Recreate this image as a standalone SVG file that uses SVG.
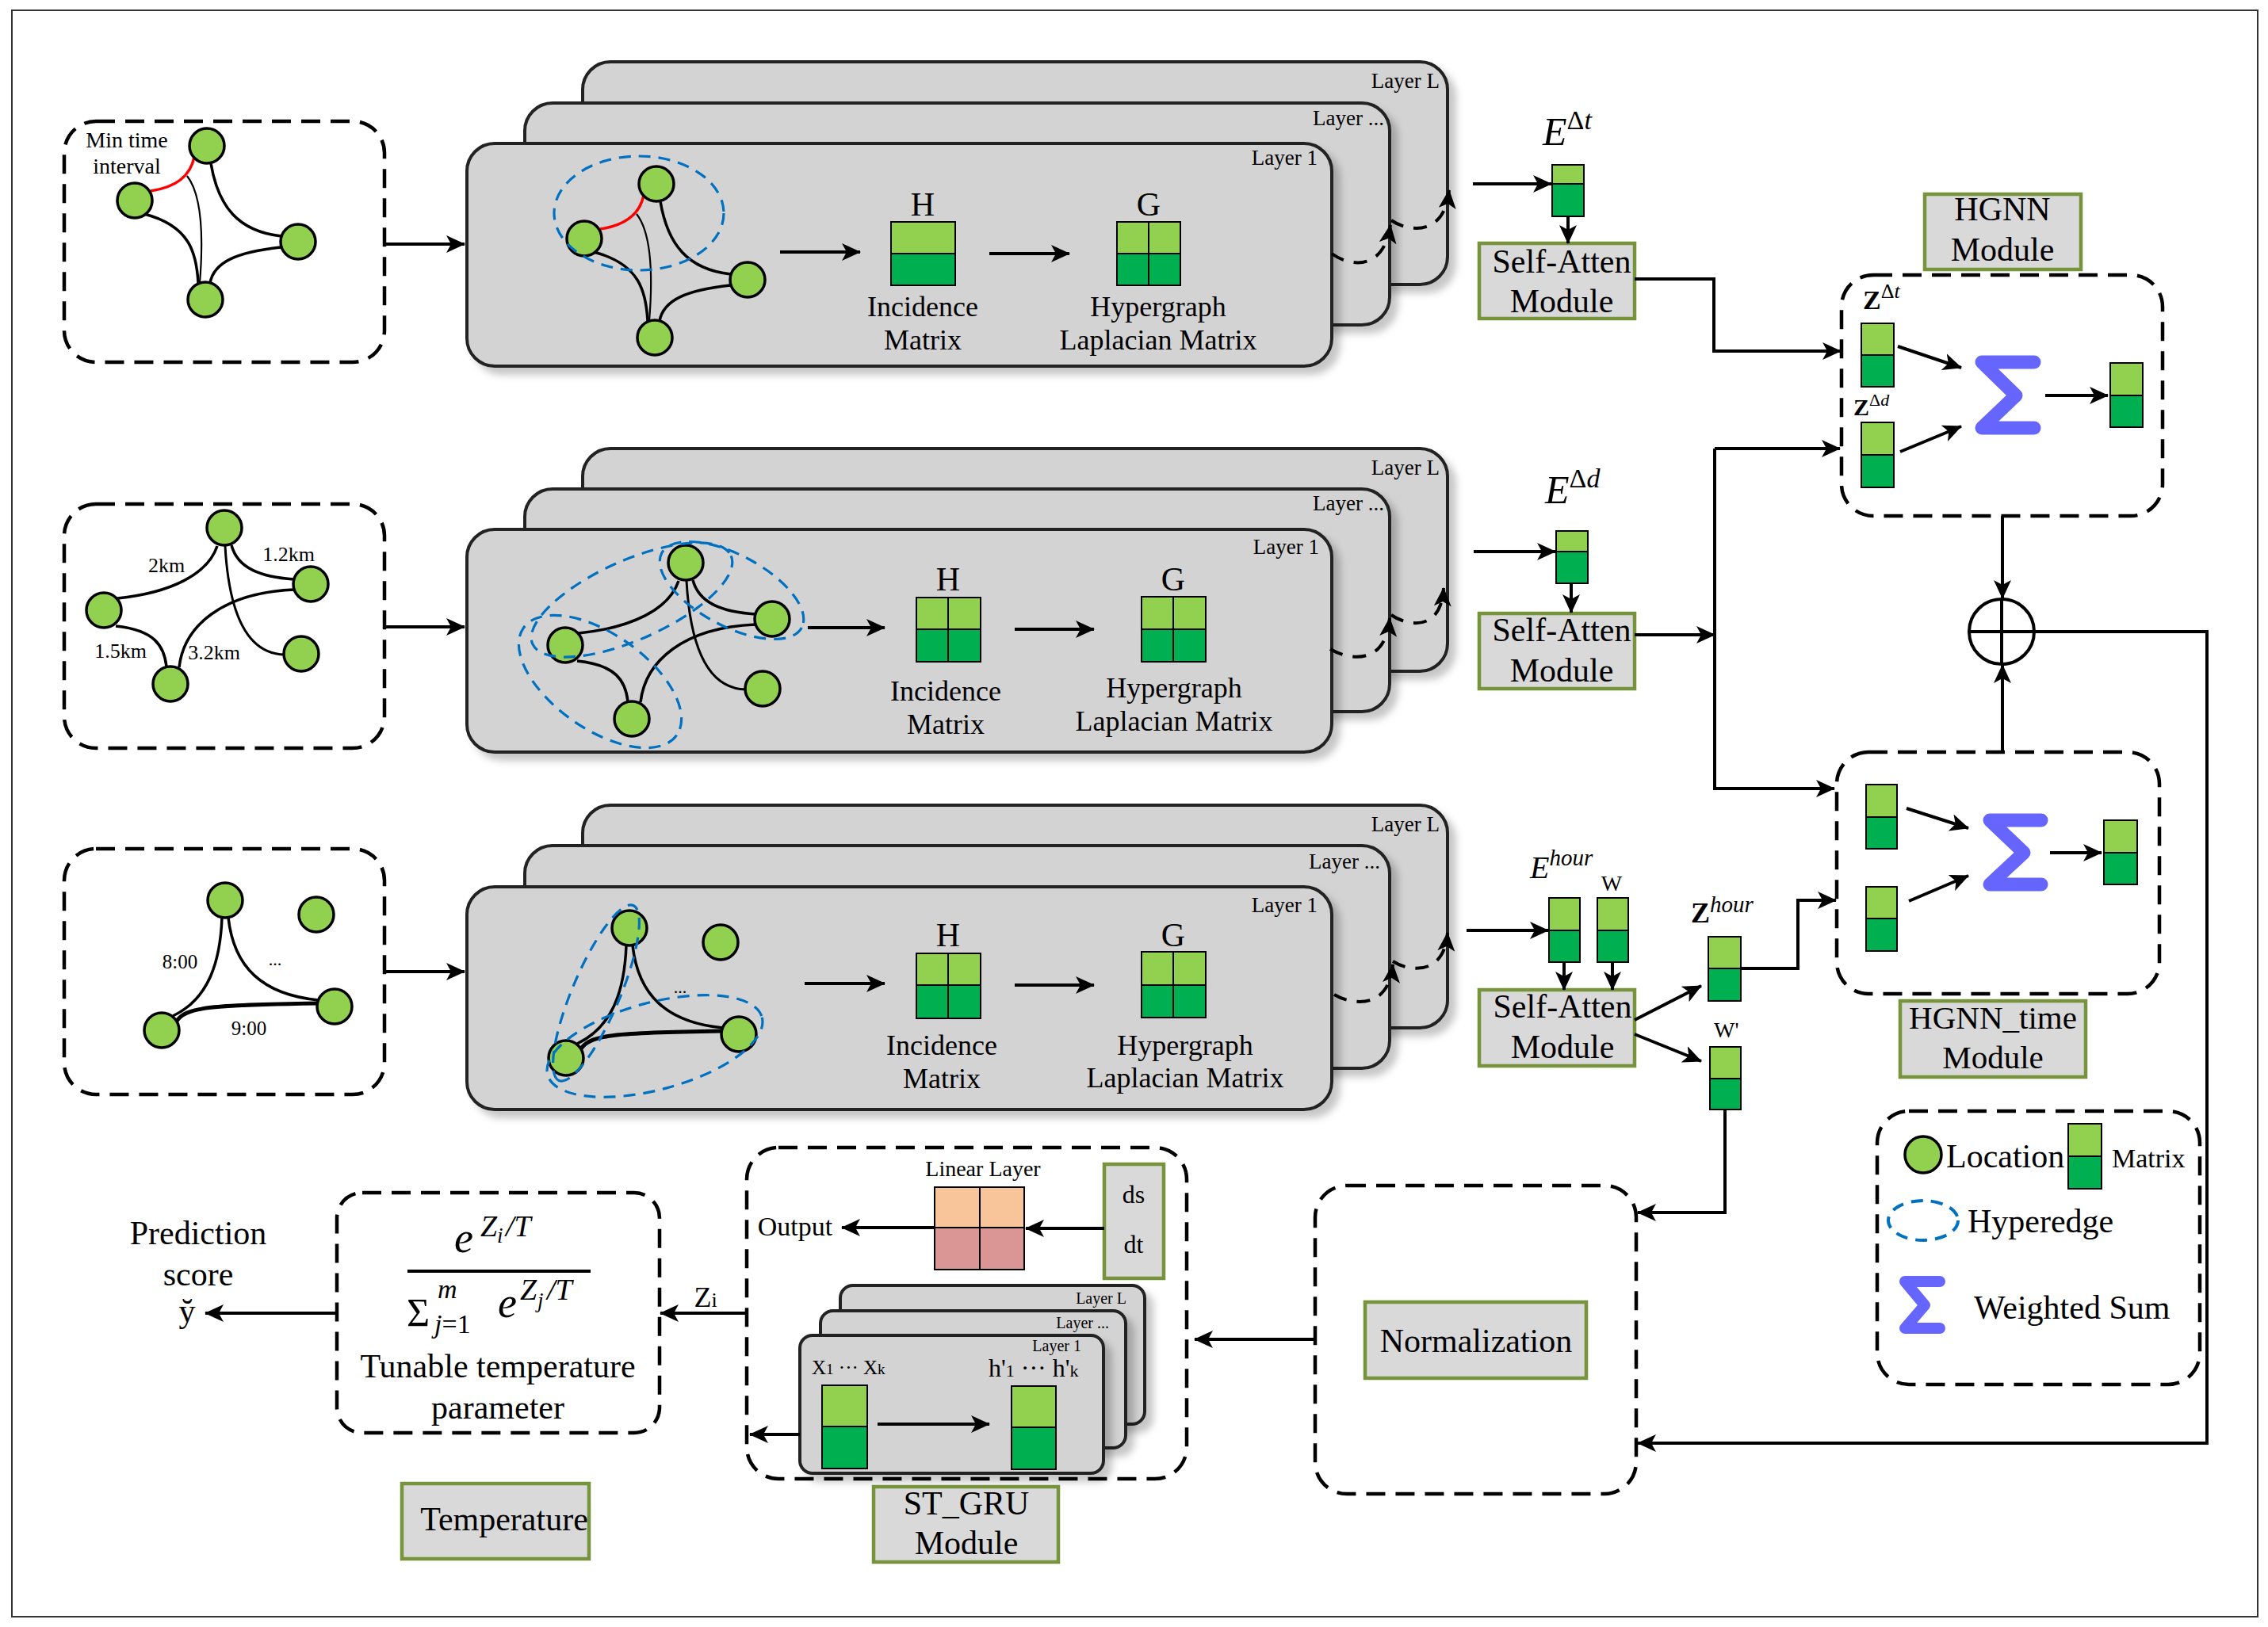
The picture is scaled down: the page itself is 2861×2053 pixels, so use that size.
<svg xmlns="http://www.w3.org/2000/svg" width="2861" height="2053" viewBox="0 0 2861 2053">
<defs>
<style>
.t{font-family:"Liberation Serif","Times New Roman",serif;fill:#000}
.card{fill:#d3d3d3;stroke:#222;stroke-width:4;filter:url(#sh)}
.dbox{fill:none;stroke:#000;stroke-width:4.5;stroke-dasharray:24 13}
.node{fill:#92d050;stroke:#000;stroke-width:3.5}
.edge{fill:none;stroke:#000;stroke-width:3.5}
.thin{fill:none;stroke:#000;stroke-width:2.2}
.red{fill:none;stroke:#ff0000;stroke-width:3.5}
.hy{fill:none;stroke:#0070c0;stroke-width:3.2;stroke-dasharray:15 10}
.lbox{fill:#d9d9d9;stroke:#77933c;stroke-width:4.5}
.ml{fill:#92d050;stroke:#000;stroke-width:2}
.md{fill:#00b050;stroke:#000;stroke-width:2}
.con{fill:none;stroke:#000;stroke-width:4;marker-end:url(#ah)}
.dcon{fill:none;stroke:#000;stroke-width:4;stroke-dasharray:17 13;marker-end:url(#ah)}
.sig{fill:none;stroke:#6666ff;stroke-width:17;stroke-linecap:round;stroke-linejoin:round}
</style>
<filter id="sh" x="-5%" y="-5%" width="115%" height="120%">
<feDropShadow dx="9" dy="9" stdDeviation="5" flood-color="#000" flood-opacity="0.22"/>
</filter>
<marker id="ah" viewBox="0 0 24 22" markerWidth="24" markerHeight="22" refX="23" refY="11" orient="auto" markerUnits="userSpaceOnUse">
<path d="M0,0 L24,11 L0,22 L6,11 z" fill="#000"/>
</marker>
<g id="g1">
<path class="red" d="M190,241 Q238,234 245,198"/>
<path class="thin" d="M236,222 C258,250 255,320 252,357"/>
<path class="edge" d="M266,206 C275,260 300,292 355,298"/>
<path class="edge" d="M182,270 C240,285 248,320 250,357"/>
<path class="edge" d="M354,312 C300,318 270,330 265,357"/>
<circle class="node" cx="261" cy="184" r="22"/>
<circle class="node" cx="170" cy="253" r="22"/>
<circle class="node" cx="376" cy="305" r="22"/>
<circle class="node" cx="259" cy="378" r="22"/>
</g>
<g id="g2">
<path class="edge" d="M148,755 C215,748 262,725 274,689"/>
<path class="edge" d="M292,688 C300,718 330,728 371,731"/>
<path class="thin" d="M284,689 C288,760 305,825 359,826" style="stroke-width:3"/>
<path class="edge" d="M146,790 C195,795 207,815 210,841"/>
<path class="edge" d="M226,842 C232,790 280,748 371,744"/>
<circle class="node" cx="283" cy="666" r="22"/>
<circle class="node" cx="131" cy="770" r="22"/>
<circle class="node" cx="392" cy="737" r="22"/>
<circle class="node" cx="215" cy="863" r="22"/>
<circle class="node" cx="380" cy="825" r="22"/>
</g>
<g id="g3">
<path class="edge" d="M280,1158 C278,1210 265,1260 218,1282"/>
<path class="edge" d="M288,1158 C295,1220 330,1255 402,1262"/>
<path class="edge" d="M222,1290 C232,1270 270,1268 400,1266" style="stroke-width:5"/>
<circle class="node" cx="284" cy="1136" r="22"/>
<circle class="node" cx="399" cy="1154" r="22"/>
<circle class="node" cx="204" cy="1300" r="22"/>
<circle class="node" cx="422" cy="1270" r="22"/>
</g>
</defs>

<rect x="15" y="13" width="2833" height="2027" fill="#fff" stroke="#333" stroke-width="2"/>

<!-- Row 1 -->
<g id="input1">
<rect class="dbox" x="81" y="153" width="404" height="304" rx="40"/>
<use href="#g1"/>
<text class="t" x="160" y="186" font-size="28" text-anchor="middle">Min time</text>
<text class="t" x="160" y="219" font-size="28" text-anchor="middle">interval</text>
</g>
<g id="stack1">
<rect class="card" x="735" y="78" width="1091" height="281" rx="35"/>
<text class="t" x="1816" y="111" font-size="27" text-anchor="end">Layer L</text>
<rect class="card" x="662" y="130" width="1091" height="280" rx="35"/>
<text class="t" x="1746" y="158" font-size="27" text-anchor="end">Layer ...</text>
<rect class="card" x="589" y="181" width="1091" height="281" rx="35"/>
<text class="t" x="1662" y="208" font-size="27" text-anchor="end">Layer 1</text>
<use href="#g1" transform="translate(567,48)"/>
<ellipse class="hy" cx="806" cy="269" rx="107" ry="72"/>
<text class="t" x="1164" y="272" font-size="42" text-anchor="middle">H</text>
<rect class="ml" x="1124" y="280" width="81" height="40"/>
<rect class="md" x="1124" y="320" width="81" height="40"/>
<text class="t" x="1164" y="399" font-size="36" text-anchor="middle">Incidence</text>
<text class="t" x="1164" y="441" font-size="36" text-anchor="middle">Matrix</text>
<text class="t" x="1449" y="272" font-size="42" text-anchor="middle">G</text>
<rect class="ml" x="1409" y="280" width="40" height="40"/><rect class="ml" x="1449" y="280" width="40" height="40"/>
<rect class="md" x="1409" y="320" width="40" height="40"/><rect class="md" x="1449" y="320" width="40" height="40"/>
<text class="t" x="1461" y="399" font-size="36" text-anchor="middle">Hypergraph</text>
<text class="t" x="1461" y="441" font-size="36" text-anchor="middle">Laplacian Matrix</text>
</g>

<!-- Row 2 -->
<g id="input2">
<rect class="dbox" x="81" y="636" width="404" height="308" rx="40"/>
<use href="#g2"/>
<text class="t" x="210" y="722" font-size="26" text-anchor="middle">2km</text>
<text class="t" x="364" y="708" font-size="26" text-anchor="middle">1.2km</text>
<text class="t" x="152" y="830" font-size="26" text-anchor="middle">1.5km</text>
<text class="t" x="270" y="832" font-size="26" text-anchor="middle">3.2km</text>
</g>
<g id="stack2">
<rect class="card" x="735" y="566" width="1091" height="281" rx="35"/>
<text class="t" x="1816" y="599" font-size="27" text-anchor="end">Layer L</text>
<rect class="card" x="662" y="617" width="1091" height="281" rx="35"/>
<text class="t" x="1746" y="644" font-size="27" text-anchor="end">Layer ...</text>
<rect class="card" x="589" y="668" width="1091" height="281" rx="35"/>
<text class="t" x="1664" y="699" font-size="27" text-anchor="end">Layer 1</text>
<use href="#g2" transform="translate(582,44)"/>
<ellipse class="hy" cx="923" cy="745" rx="100" ry="45" transform="rotate(28 923 745)"/>
<ellipse class="hy" cx="797" cy="757" rx="137" ry="50" transform="rotate(-24 797 757)"/>
<ellipse class="hy" cx="757" cy="860" rx="118" ry="60" transform="rotate(35 757 860)"/>
<text class="t" x="1196" y="745" font-size="42" text-anchor="middle">H</text>
<rect class="ml" x="1156" y="754" width="40" height="40"/><rect class="ml" x="1196" y="754" width="41" height="40"/>
<rect class="md" x="1156" y="794" width="40" height="41"/><rect class="md" x="1196" y="794" width="41" height="41"/>
<text class="t" x="1193" y="884" font-size="36" text-anchor="middle">Incidence</text>
<text class="t" x="1193" y="926" font-size="36" text-anchor="middle">Matrix</text>
<text class="t" x="1480" y="745" font-size="42" text-anchor="middle">G</text>
<rect class="ml" x="1440" y="753" width="40" height="41"/><rect class="ml" x="1480" y="753" width="41" height="41"/>
<rect class="md" x="1440" y="794" width="40" height="41"/><rect class="md" x="1480" y="794" width="41" height="41"/>
<text class="t" x="1481" y="880" font-size="36" text-anchor="middle">Hypergraph</text>
<text class="t" x="1481" y="922" font-size="36" text-anchor="middle">Laplacian Matrix</text>
</g>

<!-- Row 3 -->
<g id="input3">
<rect class="dbox" x="81" y="1071" width="404" height="310" rx="40"/>
<use href="#g3"/>
<text class="t" x="227" y="1222" font-size="25" text-anchor="middle">8:00</text>
<text class="t" x="347" y="1218" font-size="22" text-anchor="middle">...</text>
<text class="t" x="314" y="1306" font-size="25" text-anchor="middle">9:00</text>
</g>
<g id="stack3">
<rect class="card" x="735" y="1016" width="1091" height="281" rx="35"/>
<text class="t" x="1816" y="1049" font-size="27" text-anchor="end">Layer L</text>
<rect class="card" x="662" y="1067" width="1091" height="281" rx="35"/>
<text class="t" x="1741" y="1096" font-size="27" text-anchor="end">Layer ...</text>
<rect class="card" x="589" y="1119" width="1091" height="281" rx="35"/>
<text class="t" x="1662" y="1151" font-size="27" text-anchor="end">Layer 1</text>
<use href="#g3" transform="translate(510,35)"/>
<text class="t" x="858" y="1253" font-size="22" text-anchor="middle">...</text>
<ellipse class="hy" cx="752" cy="1253" rx="120" ry="30" transform="rotate(113 752 1253)"/>
<ellipse class="hy" cx="826" cy="1320" rx="140" ry="55" transform="rotate(-15 826 1320)"/>
<text class="t" x="1196" y="1194" font-size="42" text-anchor="middle">H</text>
<rect class="ml" x="1156" y="1203" width="40" height="40"/><rect class="ml" x="1196" y="1203" width="41" height="40"/>
<rect class="md" x="1156" y="1243" width="40" height="42"/><rect class="md" x="1196" y="1243" width="41" height="42"/>
<text class="t" x="1188" y="1331" font-size="36" text-anchor="middle">Incidence</text>
<text class="t" x="1188" y="1373" font-size="36" text-anchor="middle">Matrix</text>
<text class="t" x="1480" y="1194" font-size="42" text-anchor="middle">G</text>
<rect class="ml" x="1440" y="1201" width="40" height="42"/><rect class="ml" x="1480" y="1201" width="41" height="42"/>
<rect class="md" x="1440" y="1243" width="40" height="41"/><rect class="md" x="1480" y="1243" width="41" height="41"/>
<text class="t" x="1495" y="1331" font-size="36" text-anchor="middle">Hypergraph</text>
<text class="t" x="1495" y="1372" font-size="36" text-anchor="middle">Laplacian Matrix</text>
</g>

<!-- Embeddings and self attention -->
<g id="e_dt">
<text class="t" x="1946" y="183" font-size="50" font-style="italic">E<tspan font-size="34" dy="-20" font-style="normal">Δ</tspan><tspan font-size="34" font-style="italic">t</tspan></text>
<rect class="ml" x="1958" y="208" width="40" height="24"/><rect class="md" x="1958" y="232" width="40" height="41"/>
</g>
<g id="sa1">
<rect class="lbox" x="1866" y="307" width="196" height="95"/>
<text class="t" x="1970" y="344" font-size="42" text-anchor="middle">Self-Atten</text>
<text class="t" x="1970" y="394" font-size="42" text-anchor="middle">Module</text>
</g>
<g id="e_dd">
<text class="t" x="1949" y="635" font-size="50" font-style="italic">E<tspan font-size="34" dy="-20" font-style="normal">Δ</tspan><tspan font-size="34" font-style="italic">d</tspan></text>
<rect class="ml" x="1963" y="670" width="40" height="26"/><rect class="md" x="1963" y="696" width="40" height="40"/>
</g>
<g id="sa2">
<rect class="lbox" x="1866" y="774" width="196" height="95"/>
<text class="t" x="1970" y="809" font-size="42" text-anchor="middle">Self-Atten</text>
<text class="t" x="1970" y="860" font-size="42" text-anchor="middle">Module</text>
</g>
<g id="e_hour">
<text class="t" x="1930" y="1108" font-size="40" font-style="italic">E<tspan font-size="29" dy="-16">hour</tspan></text>
<text class="t" x="2033" y="1124" font-size="28" text-anchor="middle">W</text>
<rect class="ml" x="1954" y="1133" width="39" height="41"/><rect class="md" x="1954" y="1174" width="39" height="40"/>
<rect class="ml" x="2015" y="1133" width="39" height="41"/><rect class="md" x="2015" y="1174" width="39" height="40"/>
</g>
<g id="sa3">
<rect class="lbox" x="1866" y="1249" width="196" height="96"/>
<text class="t" x="1971" y="1284" font-size="42" text-anchor="middle">Self-Atten</text>
<text class="t" x="1971" y="1335" font-size="42" text-anchor="middle">Module</text>
</g>
<g id="z_hour">
<text class="t" x="2133" y="1164" font-size="36" font-weight="bold">Z<tspan font-weight="normal" font-style="italic" font-size="29" dy="-13">hour</tspan></text>
<rect class="ml" x="2155" y="1182" width="41" height="40"/><rect class="md" x="2155" y="1222" width="41" height="41"/>
</g>
<g id="w_prime">
<text class="t" x="2162" y="1309" font-size="28">W'</text>
<rect class="ml" x="2157" y="1321" width="39" height="40"/><rect class="md" x="2157" y="1361" width="39" height="39"/>
</g>

<!-- HGNN module -->
<g id="hgnn">
<rect class="lbox" x="2428" y="245" width="197" height="95"/>
<text class="t" x="2526" y="278" font-size="42" text-anchor="middle">HGNN</text>
<text class="t" x="2526" y="329" font-size="42" text-anchor="middle">Module</text>
<rect class="dbox" x="2323" y="347" width="405" height="304" rx="40"/>
<text class="t" x="2350" y="390" font-size="34" font-weight="bold">Z<tspan font-weight="normal" font-size="26" dy="-14">Δ</tspan><tspan font-weight="normal" font-style="italic" font-size="26">t</tspan></text>
<rect class="ml" x="2348" y="408" width="41" height="40"/><rect class="md" x="2348" y="448" width="41" height="40"/>
<text class="t" x="2338" y="524" font-size="30" font-weight="bold">Z<tspan font-weight="normal" font-size="22" dy="-12">Δ</tspan><tspan font-weight="normal" font-style="italic" font-size="22">d</tspan></text>
<rect class="ml" x="2348" y="533" width="41" height="41"/><rect class="md" x="2348" y="574" width="41" height="41"/>
<polyline class="sig" points="2566,457 2500,457 2543,499 2500,540 2566,540"/>
<rect class="ml" x="2662" y="458" width="41" height="41"/><rect class="md" x="2662" y="499" width="41" height="40"/>
</g>
<g id="oplus">
<circle cx="2525" cy="797" r="41" fill="#fff" stroke="#000" stroke-width="4"/>
<line x1="2484" y1="797" x2="2566" y2="797" stroke="#000" stroke-width="4"/>
<line x1="2525" y1="756" x2="2525" y2="838" stroke="#000" stroke-width="4"/>
</g>
<g id="hgnn_time">
<rect class="dbox" x="2317" y="949" width="407" height="305" rx="40"/>
<rect class="ml" x="2354" y="990" width="39" height="41"/><rect class="md" x="2354" y="1031" width="39" height="40"/>
<rect class="ml" x="2354" y="1119" width="39" height="40"/><rect class="md" x="2354" y="1159" width="39" height="41"/>
<polyline class="sig" points="2575,1035 2510,1035 2553,1076 2510,1116 2575,1116"/>
<rect class="ml" x="2654" y="1035" width="42" height="41"/><rect class="md" x="2654" y="1076" width="42" height="40"/>
<rect class="lbox" x="2397" y="1263" width="234" height="96"/>
<text class="t" x="2514" y="1298" font-size="41" text-anchor="middle">HGNN_time</text>
<text class="t" x="2514" y="1348" font-size="41" text-anchor="middle">Module</text>
</g>

<!-- Legend -->
<g id="legend">
<rect class="dbox" x="2368" y="1402" width="407" height="345" rx="40"/>
<circle class="node" cx="2426" cy="1457" r="23"/>
<text class="t" x="2455" y="1473" font-size="42">Location</text>
<rect class="ml" x="2609" y="1418" width="42" height="41"/><rect class="md" x="2609" y="1459" width="42" height="41"/>
<text class="t" x="2664" y="1473" font-size="34">Matrix</text>
<ellipse class="hy" cx="2426" cy="1540" rx="44" ry="25" style="stroke-width:4"/>
<text class="t" x="2482" y="1555" font-size="42">Hyperedge</text>
<polyline class="sig" points="2447,1617 2403,1617 2428,1647 2403,1676 2447,1676" style="stroke-width:14"/>
<text class="t" x="2490" y="1664" font-size="42">Weighted Sum</text>
</g>

<!-- Normalization -->
<g id="normalization">
<rect class="dbox" x="1659" y="1496" width="405" height="389" rx="40"/>
<rect class="lbox" x="1722" y="1643" width="279" height="96"/>
<text class="t" x="1862" y="1706" font-size="42" text-anchor="middle">Normalization</text>
</g>

<!-- ST_GRU -->
<g id="st_gru">
<rect class="dbox" x="942" y="1448" width="555" height="418" rx="40"/>
<text class="t" x="1240" y="1484" font-size="28" text-anchor="middle">Linear Layer</text>
<rect x="1179" y="1498" width="57" height="51" fill="#f8c59b" stroke="#000" stroke-width="2"/>
<rect x="1236" y="1498" width="56" height="51" fill="#f8c59b" stroke="#000" stroke-width="2"/>
<rect x="1179" y="1549" width="57" height="53" fill="#d99694" stroke="#000" stroke-width="2"/>
<rect x="1236" y="1549" width="56" height="53" fill="#d99694" stroke="#000" stroke-width="2"/>
<text class="t" x="1003" y="1559" font-size="34" text-anchor="middle">Output</text>
<rect class="lbox" x="1393" y="1469" width="75" height="144"/>
<text class="t" x="1430" y="1518" font-size="32" text-anchor="middle">ds</text>
<text class="t" x="1430" y="1581" font-size="32" text-anchor="middle">dt</text>
<rect class="card" x="1060" y="1622" width="384" height="175" rx="16"/>
<text class="t" x="1421" y="1645" font-size="20" text-anchor="end">Layer L</text>
<rect class="card" x="1035" y="1654" width="385" height="173" rx="16"/>
<text class="t" x="1399" y="1676" font-size="20" text-anchor="end">Layer ...</text>
<rect class="card" x="1009" y="1685" width="383" height="174" rx="16"/>
<text class="t" x="1364" y="1705" font-size="20" text-anchor="end">Layer 1</text>
<text class="t" x="1024" y="1734" font-size="25">X<tspan font-size="19">1</tspan> ··· X<tspan font-size="19">k</tspan></text>
<text class="t" x="1247" y="1737" font-size="32">h'<tspan font-size="22">1</tspan> ··· h'<tspan font-size="22">k</tspan></text>
<rect class="ml" x="1037" y="1748" width="57" height="52"/><rect class="md" x="1037" y="1800" width="57" height="53"/>
<rect class="ml" x="1276" y="1749" width="56" height="52"/><rect class="md" x="1276" y="1801" width="56" height="53"/>
<rect class="lbox" x="1102" y="1876" width="233" height="95"/>
<text class="t" x="1219" y="1911" font-size="42" text-anchor="middle">ST_GRU</text>
<text class="t" x="1219" y="1961" font-size="42" text-anchor="middle">Module</text>
</g>

<!-- Temperature -->
<g id="temperature">
<rect class="dbox" x="425" y="1505" width="407" height="303" rx="32"/>
<text class="t" x="573" y="1580" font-size="54" font-style="italic">e</text>
<text class="t" x="606" y="1560" font-size="38" font-style="italic">Z</text>
<text class="t" x="627" y="1568" font-size="27" font-style="italic">i</text>
<text class="t" x="638" y="1560" font-size="38" font-style="italic">/T</text>
<line x1="514" y1="1604" x2="745" y2="1604" stroke="#000" stroke-width="4"/>
<text class="t" x="513" y="1673" font-size="50">Σ</text>
<text class="t" x="552" y="1638" font-size="34" font-style="italic">m</text>
<text class="t" x="548" y="1682" font-size="34"><tspan font-style="italic">j</tspan>=1</text>
<text class="t" x="628" y="1662" font-size="54" font-style="italic">e</text>
<text class="t" x="656" y="1640" font-size="38" font-style="italic">Z</text>
<text class="t" x="678" y="1650" font-size="27" font-style="italic">j</text>
<text class="t" x="690" y="1640" font-size="38" font-style="italic">/T</text>
<text class="t" x="628" y="1738" font-size="42" text-anchor="middle">Tunable temperature</text>
<text class="t" x="628" y="1790" font-size="42" text-anchor="middle">parameter</text>
<rect class="lbox" x="507" y="1872" width="236" height="95"/>
<text class="t" x="636" y="1931" font-size="42" text-anchor="middle">Temperature</text>
</g>

<g id="prediction">
<text class="t" x="250" y="1570" font-size="42" text-anchor="middle">Prediction</text>
<text class="t" x="250" y="1622" font-size="42" text-anchor="middle">score</text>
<text class="t" x="236" y="1668" font-size="42" text-anchor="middle">y̆</text>
</g>

<text class="t" x="890" y="1649" font-size="36" text-anchor="middle">Z<tspan font-size="26">i</tspan></text>

<!-- Connectors -->
<g id="connectors">
<path class="con" d="M485,308 H586"/>
<path class="con" d="M485,791 H586"/>
<path class="con" d="M485,1226 H586"/>
<path class="con" d="M984,318 H1085"/>
<path class="con" d="M1248,320 H1349"/>
<path class="con" d="M1019,792 H1116"/>
<path class="con" d="M1280,794 H1380"/>
<path class="con" d="M1015,1241 H1116"/>
<path class="con" d="M1280,1243 H1380"/>
<path class="dcon" d="M1680,320 C1700,335 1745,345 1754,284"/>
<path class="dcon" d="M1755,278 C1775,292 1822,300 1828,240"/>
<path class="dcon" d="M1678,819 C1700,832 1748,842 1753,780"/>
<path class="dcon" d="M1755,776 C1775,790 1818,798 1821,742"/>
<path class="dcon" d="M1683,1255 C1705,1268 1752,1275 1757,1217"/>
<path class="dcon" d="M1757,1213 C1777,1226 1822,1232 1826,1177"/>
<path class="con" d="M1858,232 H1957"/>
<path class="con" d="M1978,273 V307"/>
<path class="con" d="M2062,352 H2162 V443 H2322"/>
<path class="con" d="M1859,696 H1962"/>
<path class="con" d="M1982,736 V773"/>
<path class="con" d="M2062,801 H2163"/>
<path class="con" d="M2163,566 H2321"/>
<path class="con" d="M2163,566 V995 H2314"/>
<path class="con" d="M1850,1174 H1953"/>
<path class="con" d="M1973,1214 V1249"/>
<path class="con" d="M2034,1214 V1249"/>
<path class="con" d="M2062,1287 L2146,1244"/>
<path class="con" d="M2062,1305 L2146,1339"/>
<path class="con" d="M2196,1222 H2268 V1136 H2316"/>
<path class="con" d="M2394,437 L2474,464"/>
<path class="con" d="M2397,570 L2474,538"/>
<path class="con" d="M2580,499 H2659"/>
<path class="con" d="M2405,1020 L2483,1045"/>
<path class="con" d="M2408,1137 L2483,1105"/>
<path class="con" d="M2586,1076 H2651"/>
<path class="con" d="M2526,651 V755"/>
<path class="con" d="M2526,949 V839"/>
<path class="con" d="M2566,797 H2784 V1821 H2066"/>
<path class="con" d="M2176,1400 V1530 H2066"/>
<path class="con" d="M1659,1690 H1507"/>
<path class="con" d="M941,1657 H833"/>
<path class="con" d="M425,1657 H259"/>
<path class="con" d="M1393,1550 H1294"/>
<path class="con" d="M1179,1549 H1062"/>
<path class="con" d="M1009,1810 H946"/>
<path class="con" d="M1107,1797 H1248"/>
</g>
</svg>
